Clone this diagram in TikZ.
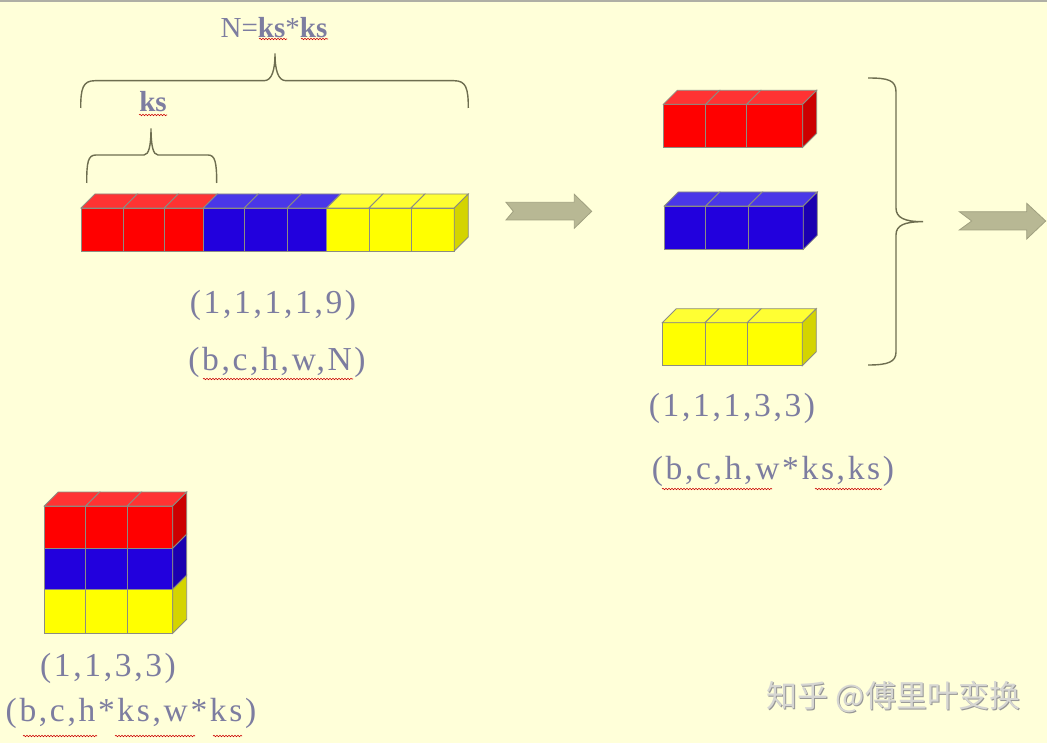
\documentclass[tikz,border=0pt]{standalone}
\usepackage{fontspec}
\setmainfont{Liberation Serif}
\newfontfamily\labfont[LetterSpace=8]{Liberation Serif}
\newfontfamily\cjkfont{Noto Sans CJK SC}
\usetikzlibrary{decorations.pathmorphing}
\definecolor{bgc}{RGB}{255,255,217}
\definecolor{topline}{RGB}{175,175,165}
\definecolor{labc}{RGB}{125,125,160}
\definecolor{edgec}{RGB}{140,140,130}
\definecolor{redf}{RGB}{255,0,0}
\definecolor{redt}{RGB}{255,51,51}
\definecolor{reds}{RGB}{204,0,0}
\definecolor{bluef}{RGB}{34,0,221}
\definecolor{bluet}{RGB}{74,55,232}
\definecolor{blues}{RGB}{27,0,176}
\definecolor{yelf}{RGB}{255,255,0}
\definecolor{yelt}{RGB}{255,255,51}
\definecolor{yels}{RGB}{212,212,0}
\definecolor{arrf}{RGB}{184,184,148}
\definecolor{arrd}{RGB}{160,160,128}
\definecolor{bracec}{RGB}{110,110,80}
\definecolor{wmc}{RGB}{214,214,210}
\definecolor{wms}{RGB}{150,150,150}
\newcommand{\pfront}[5]{\filldraw[fill=#5,draw=edgec,line width=0.8pt] (#1,#3) rectangle (#2,#4);}
\newcommand{\ptop}[4]{\filldraw[fill=#4,draw=edgec,line width=0.8pt] (#1,#3) -- (#1+14,#3-14) -- (#2+14,#3-14) -- (#2,#3) -- cycle;}
\newcommand{\pside}[4]{\filldraw[fill=#4,draw=edgec,line width=0.8pt] (#1,#2) -- (#1+14,#2-14) -- (#1+14,#3-14) -- (#1,#3) -- cycle;}
\newcommand{\pcell}[6]{\pfront{#1}{#2}{#3}{#4}{#5}\ptop{#1}{#2}{#3}{#6}}
\tikzset{
  lab/.style={font=\labfont\fontsize{33.5}{33.5}\selectfont, text=labc, inner sep=0pt},
  blab/.style={font=\fontsize{29}{29}\selectfont, text=labc, inner sep=0pt},
  wavy/.style={draw=red!80!black, line width=0.6pt, decorate, decoration={snake, amplitude=0.7pt, segment length=3pt}},
  bracel/.style={draw=bracec, line width=1.4pt},
  arrowshape/.style={fill=arrf, draw=arrd, line width=0.8pt}
}
\begin{document}
\begin{tikzpicture}[x=1pt,y=-1pt]
\useasboundingbox (0,0) rectangle (1047,743);
\fill[bgc] (0,0) rectangle (1047,743);
\fill[topline] (0,0) rectangle (1047,2.2);

% long bar
\pcell{81}{123.3}{208}{251}{redf}{redt}
\pcell{123.3}{164.3}{208}{251}{redf}{redt}
\pcell{164.3}{203.3}{208}{251}{redf}{redt}
\pcell{203.3}{244.3}{208}{251}{bluef}{bluet}
\pcell{244.3}{287.3}{208}{251}{bluef}{bluet}
\pcell{287.3}{326.7}{208}{251}{bluef}{bluet}
\pcell{326.7}{369}{208}{251}{yelf}{yelt}
\pcell{369}{411}{208}{251}{yelf}{yelt}
\pcell{411}{454.3}{208}{251}{yelf}{yelt}
\pside{454.3}{208}{251}{yels}

% right column bars
\pcell{663.3}{705.7}{104.3}{147.3}{redf}{redt}
\pcell{705.7}{746.7}{104.3}{147.3}{redf}{redt}
\pcell{746.7}{802.7}{104.3}{147.3}{redf}{redt}
\pside{802.7}{104.3}{147.3}{reds}

\pcell{664.3}{705.7}{206}{249.3}{bluef}{bluet}
\pcell{705.7}{748.3}{206}{249.3}{bluef}{bluet}
\pcell{748.3}{803.3}{206}{249.3}{bluef}{bluet}
\pside{803.3}{206}{249.3}{blues}

\pcell{662.3}{705}{322.7}{365.7}{yelf}{yelt}
\pcell{705}{747.3}{322.7}{365.7}{yelf}{yelt}
\pcell{747.3}{802.3}{322.7}{365.7}{yelf}{yelt}
\pside{802.3}{322.7}{365.7}{yels}

% stacked block
\pcell{44.3}{85.7}{506}{548.3}{redf}{redt}
\pcell{85.7}{127.3}{506}{548.3}{redf}{redt}
\pcell{127.3}{172.7}{506}{548.3}{redf}{redt}
\pside{172.7}{506}{548.3}{reds}
\pfront{44.3}{85.7}{548.3}{589.3}{bluef}
\pfront{85.7}{127.3}{548.3}{589.3}{bluef}
\pfront{127.3}{172.7}{548.3}{589.3}{bluef}
\pside{172.7}{548.3}{589.3}{blues}
\pfront{44.3}{85.7}{589.3}{633.3}{yelf}
\pfront{85.7}{127.3}{589.3}{633.3}{yelf}
\pfront{127.3}{172.7}{589.3}{633.3}{yelf}
\pside{172.7}{589.3}{633.3}{yels}

% arrows
\filldraw[arrowshape] (506,202.3) -- (574.3,202.3) -- (574.3,194.3) -- (591.7,211.3) -- (574.3,228.3) -- (574.3,220) -- (506,220) -- (513.3,211.3) -- cycle;
\filldraw[arrowshape] (959.3,211.7) -- (1026.7,211.7) -- (1026.7,203.3) -- (1045.7,221) -- (1026.7,239) -- (1026.7,230) -- (959.3,230) -- (971.7,221) -- cycle;

% braces
\draw[bracel] (80.7,108) .. controls (80.7,88) and (83,80.7) .. (95,80.7) -- (264,80.7) .. controls (272,80.7) and (275,70) .. (275,53.3) .. controls (275,70) and (278,80.7) .. (286,80.7) -- (454,80.7) .. controls (466,80.7) and (468.3,88) .. (468.3,108);
\draw[bracel] (86.7,183) .. controls (86.7,162) and (88,155) .. (96,155) -- (144,155) .. controls (149,155) and (151,145) .. (151,128.3) .. controls (151,145) and (153,155) .. (158,155) -- (208,155) .. controls (215,155) and (216.7,162) .. (216.7,183);
\draw[bracel] (868,78) .. controls (888,78) and (896,80) .. (896,92) -- (896,208) .. controls (896,218) and (905,221.7) .. (923,221.7) .. controls (905,221.7) and (896,225) .. (896,235) -- (896,352) .. controls (896,362) and (888,365) .. (868,365);

% labels
\node[blab] (nn) at (274,28) {N=\textbf{ks}*\textbf{ks}};
\node[blab] (ks) at (153,102) {\textbf{ks}};
\node[lab] (s1) at (273,305) {(1,1,1,1,9)};
\node[lab] (d1) at (277,362) {(b,c,h,w,N)};
\node[lab] (s2) at (732,408) {(1,1,1,3,3)};
\node[lab] (d2) at (773,471) {(b,c,h,w*ks,ks)};
\node[lab] (s3) at (108,668) {(1,1,3,3)};
\node[lab] (d3) at (131,713) {(b,c,h*ks,w*ks)};

% spell-check underlines
\draw[wavy] (259,39) -- (287,39);
\draw[wavy] (301,39) -- (328,39);
\draw[wavy] (139,115) -- (167,115);
\draw[wavy] (203,379) -- (353,379);
\draw[wavy] (662,489) -- (772,489);
\draw[wavy] (815,489) -- (882,489);
\draw[wavy] (23,736) -- (97,736);
\draw[wavy] (115,736) -- (195,736);
\draw[wavy] (213,736) -- (242,736);

% watermark
\node[font=\cjkfont\fontsize{31}{31}\selectfont, text=wms, inner sep=0pt] (wm0) at (894.5,698) {知乎 @傅里叶变换};
\node[font=\cjkfont\fontsize{31}{31}\selectfont, text=wmc, inner sep=0pt] (wm) at (893.5,697) {知乎 @傅里叶变换};
\end{tikzpicture}
\end{document}
